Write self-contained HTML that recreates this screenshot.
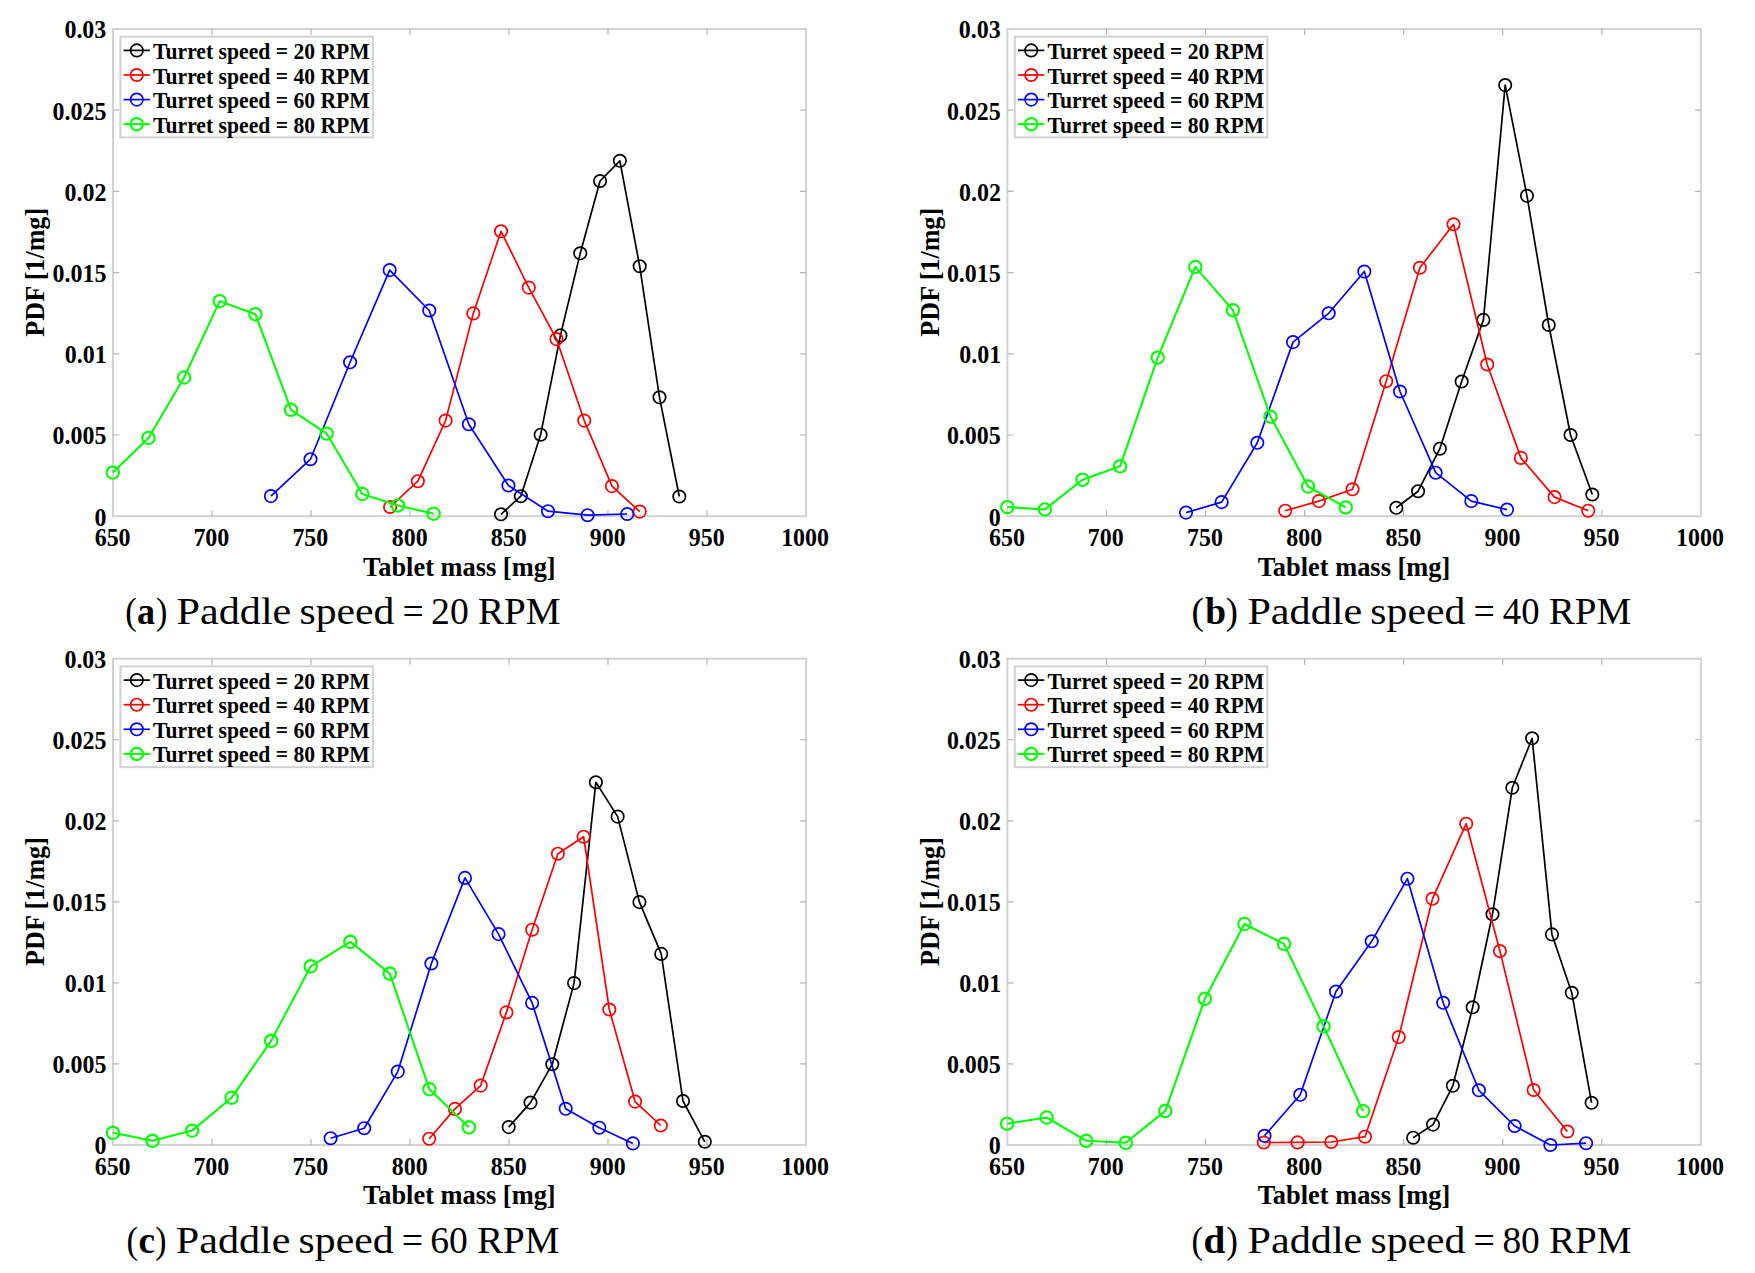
<!DOCTYPE html>
<html><head><meta charset="utf-8"><title>Tablet mass PDF</title>
<style>html,body{margin:0;padding:0;background:#fff;}svg{display:block;}</style></head>
<body><svg width="1755" height="1273" viewBox="0 0 1755 1273">
<rect width="1755" height="1273" fill="#fff"/>
<g font-family="'Liberation Serif', serif" fill="#000">
<rect x="113" y="29" width="693" height="487.2" fill="none" stroke="#d2d2d2" stroke-width="2"/>
<path d="M212 516.2v-6M212 29v6M311 516.2v-6M311 29v6M410 516.2v-6M410 29v6M509 516.2v-6M509 29v6M608 516.2v-6M608 29v6M707 516.2v-6M707 29v6M113 435h6M806 435h-6M113 353.8h6M806 353.8h-6M113 272.6h6M806 272.6h-6M113 191.4h6M806 191.4h-6M113 110.2h6M806 110.2h-6" stroke="#b4b4b4" stroke-width="1.2" fill="none"/>
<text x="94.66" y="545.7" font-size="25.9" font-weight="bold" textLength="35.94" lengthAdjust="spacingAndGlyphs">650</text>
<text x="193.39" y="545.7" font-size="25.9" font-weight="bold" textLength="35.94" lengthAdjust="spacingAndGlyphs">700</text>
<text x="292.39" y="545.7" font-size="25.9" font-weight="bold" textLength="35.94" lengthAdjust="spacingAndGlyphs">750</text>
<text x="391.69" y="545.7" font-size="25.9" font-weight="bold" textLength="35.94" lengthAdjust="spacingAndGlyphs">800</text>
<text x="490.69" y="545.7" font-size="25.9" font-weight="bold" textLength="35.94" lengthAdjust="spacingAndGlyphs">850</text>
<text x="589.75" y="545.7" font-size="25.9" font-weight="bold" textLength="35.94" lengthAdjust="spacingAndGlyphs">900</text>
<text x="688.75" y="545.7" font-size="25.9" font-weight="bold" textLength="35.94" lengthAdjust="spacingAndGlyphs">950</text>
<text x="781.13" y="545.7" font-size="25.9" font-weight="bold" textLength="47.91" lengthAdjust="spacingAndGlyphs">1000</text>
<text x="94.42" y="525.6" font-size="25.9" font-weight="bold" textLength="11.98" lengthAdjust="spacingAndGlyphs">0</text>
<text x="52.49" y="444.4" font-size="25.9" font-weight="bold" textLength="53.9" lengthAdjust="spacingAndGlyphs">0.005</text>
<text x="64.83" y="363.2" font-size="25.9" font-weight="bold" textLength="41.93" lengthAdjust="spacingAndGlyphs">0.01</text>
<text x="52.49" y="282" font-size="25.9" font-weight="bold" textLength="53.9" lengthAdjust="spacingAndGlyphs">0.015</text>
<text x="64.59" y="200.8" font-size="25.9" font-weight="bold" textLength="41.93" lengthAdjust="spacingAndGlyphs">0.02</text>
<text x="52.49" y="119.6" font-size="25.9" font-weight="bold" textLength="53.9" lengthAdjust="spacingAndGlyphs">0.025</text>
<text x="64.41" y="38.4" font-size="25.9" font-weight="bold" textLength="41.93" lengthAdjust="spacingAndGlyphs">0.03</text>
<text x="363" y="575.6" font-size="27.5" font-weight="bold" textLength="192.65" lengthAdjust="spacingAndGlyphs">Tablet mass [mg]</text>
<text transform="translate(44.4 336.66) rotate(-90)" font-size="26.9" font-weight="bold" textLength="128.78" lengthAdjust="spacingAndGlyphs">PDF [1/mg]</text>
<path d="M501 514.3L520.81 496.2L540.62 434.7L560.43 335.4L580.24 253.3L600.06 181L619.87 160.8L639.68 266.2L659.49 397.3L679.3 496.5" fill="none" stroke="#000000" stroke-width="1.7" stroke-linejoin="round"/>
<g fill="none" stroke="#000000" stroke-width="1.7"><circle cx="501" cy="514.3" r="6.2"/><circle cx="520.81" cy="496.2" r="6.2"/><circle cx="540.62" cy="434.7" r="6.2"/><circle cx="560.43" cy="335.4" r="6.2"/><circle cx="580.24" cy="253.3" r="6.2"/><circle cx="600.06" cy="181" r="6.2"/><circle cx="619.87" cy="160.8" r="6.2"/><circle cx="639.68" cy="266.2" r="6.2"/><circle cx="659.49" cy="397.3" r="6.2"/><circle cx="679.3" cy="496.5" r="6.2"/></g>
<path d="M390.1 507L417.83 481.2L445.57 420.6L473.3 313.4L501.03 231.3L528.77 287.6L556.5 339.1L584.23 420.6L611.97 486.1L639.7 511.6" fill="none" stroke="#ff0000" stroke-width="1.7" stroke-linejoin="round"/>
<g fill="none" stroke="#ff0000" stroke-width="1.7"><circle cx="390.1" cy="507" r="6.2"/><circle cx="417.83" cy="481.2" r="6.2"/><circle cx="445.57" cy="420.6" r="6.2"/><circle cx="473.3" cy="313.4" r="6.2"/><circle cx="501.03" cy="231.3" r="6.2"/><circle cx="528.77" cy="287.6" r="6.2"/><circle cx="556.5" cy="339.1" r="6.2"/><circle cx="584.23" cy="420.6" r="6.2"/><circle cx="611.97" cy="486.1" r="6.2"/><circle cx="639.7" cy="511.6" r="6.2"/></g>
<path d="M270.9 496.1L310.49 459.2L350.08 362.3L389.67 270.1L429.26 310.5L468.84 424.3L508.43 485.5L548.02 511.2L587.61 515.2L627.2 514" fill="none" stroke="#0000ff" stroke-width="1.7" stroke-linejoin="round"/>
<g fill="none" stroke="#0000ff" stroke-width="1.7"><circle cx="270.9" cy="496.1" r="6.2"/><circle cx="310.49" cy="459.2" r="6.2"/><circle cx="350.08" cy="362.3" r="6.2"/><circle cx="389.67" cy="270.1" r="6.2"/><circle cx="429.26" cy="310.5" r="6.2"/><circle cx="468.84" cy="424.3" r="6.2"/><circle cx="508.43" cy="485.5" r="6.2"/><circle cx="548.02" cy="511.2" r="6.2"/><circle cx="587.61" cy="515.2" r="6.2"/><circle cx="627.2" cy="514" r="6.2"/></g>
<path d="M112.8 472.6L148.44 437.9L184.09 377.5L219.73 301.1L255.38 314.2L291.02 409.8L326.67 433.6L362.31 494L397.96 505.4L433.6 513.7" fill="none" stroke="#00ff00" stroke-width="2.05" stroke-linejoin="round"/>
<g fill="none" stroke="#00ff00" stroke-width="2.05"><circle cx="112.8" cy="472.6" r="6.2"/><circle cx="148.44" cy="437.9" r="6.2"/><circle cx="184.09" cy="377.5" r="6.2"/><circle cx="219.73" cy="301.1" r="6.2"/><circle cx="255.38" cy="314.2" r="6.2"/><circle cx="291.02" cy="409.8" r="6.2"/><circle cx="326.67" cy="433.6" r="6.2"/><circle cx="362.31" cy="494" r="6.2"/><circle cx="397.96" cy="505.4" r="6.2"/><circle cx="433.6" cy="513.7" r="6.2"/></g>
<rect x="120.4" y="36.7" width="252.5" height="100.7" fill="#fff" stroke="#d2d2d2" stroke-width="2"/>
<path d="M123.6 50.4H149.9" stroke="#000000" stroke-width="1.7"/>
<circle cx="136.8" cy="50.4" r="6.2" fill="none" stroke="#000000" stroke-width="1.7"/>
<text x="153.08" y="58.9" font-size="22.2" font-weight="bold" textLength="216.65" lengthAdjust="spacingAndGlyphs">Turret speed = 20 RPM</text>
<path d="M123.6 75H149.9" stroke="#ff0000" stroke-width="1.7"/>
<circle cx="136.8" cy="75" r="6.2" fill="none" stroke="#ff0000" stroke-width="1.7"/>
<text x="153.08" y="83.5" font-size="22.2" font-weight="bold" textLength="216.65" lengthAdjust="spacingAndGlyphs">Turret speed = 40 RPM</text>
<path d="M123.6 99.6H149.9" stroke="#0000ff" stroke-width="1.7"/>
<circle cx="136.8" cy="99.6" r="6.2" fill="none" stroke="#0000ff" stroke-width="1.7"/>
<text x="153.08" y="108.1" font-size="22.2" font-weight="bold" textLength="216.65" lengthAdjust="spacingAndGlyphs">Turret speed = 60 RPM</text>
<path d="M123.6 124.2H149.9" stroke="#00ff00" stroke-width="2.05"/>
<circle cx="136.8" cy="124.2" r="6.2" fill="none" stroke="#00ff00" stroke-width="2.05"/>
<text x="153.08" y="132.7" font-size="22.2" font-weight="bold" textLength="216.65" lengthAdjust="spacingAndGlyphs">Turret speed = 80 RPM</text>
<text x="125.35" y="623.8" font-size="38.5" textLength="11.49" lengthAdjust="spacingAndGlyphs">(</text>
<text x="137.03" y="623.8" font-size="38.5" font-weight="bold" textLength="18.01" lengthAdjust="spacingAndGlyphs">a</text>
<text x="155.89" y="623.8" font-size="38.5" textLength="11.38" lengthAdjust="spacingAndGlyphs">)</text>
<text x="176.64" y="623.8" font-size="38.5" textLength="114.71" lengthAdjust="spacingAndGlyphs">Paddle</text>
<text x="299.53" y="623.8" font-size="38.5" textLength="94.97" lengthAdjust="spacingAndGlyphs">speed</text>
<text x="402.61" y="623.8" font-size="38.5" textLength="21.35" lengthAdjust="spacingAndGlyphs">=</text>
<text x="431.1" y="623.8" font-size="38.5" textLength="37.71" lengthAdjust="spacingAndGlyphs">20</text>
<text x="477.93" y="623.8" font-size="38.5" textLength="82.54" lengthAdjust="spacingAndGlyphs">RPM</text>
<rect x="1007.4" y="29" width="693.5" height="487.2" fill="none" stroke="#d2d2d2" stroke-width="2"/>
<path d="M1106.47 516.2v-6M1106.47 29v6M1205.54 516.2v-6M1205.54 29v6M1304.61 516.2v-6M1304.61 29v6M1403.69 516.2v-6M1403.69 29v6M1502.76 516.2v-6M1502.76 29v6M1601.83 516.2v-6M1601.83 29v6M1007.4 435h6M1700.9 435h-6M1007.4 353.8h6M1700.9 353.8h-6M1007.4 272.6h6M1700.9 272.6h-6M1007.4 191.4h6M1700.9 191.4h-6M1007.4 110.2h6M1700.9 110.2h-6" stroke="#b4b4b4" stroke-width="1.2" fill="none"/>
<text x="989.06" y="545.7" font-size="25.9" font-weight="bold" textLength="35.94" lengthAdjust="spacingAndGlyphs">650</text>
<text x="1087.86" y="545.7" font-size="25.9" font-weight="bold" textLength="35.94" lengthAdjust="spacingAndGlyphs">700</text>
<text x="1186.94" y="545.7" font-size="25.9" font-weight="bold" textLength="35.94" lengthAdjust="spacingAndGlyphs">750</text>
<text x="1286.31" y="545.7" font-size="25.9" font-weight="bold" textLength="35.94" lengthAdjust="spacingAndGlyphs">800</text>
<text x="1385.38" y="545.7" font-size="25.9" font-weight="bold" textLength="35.94" lengthAdjust="spacingAndGlyphs">850</text>
<text x="1484.51" y="545.7" font-size="25.9" font-weight="bold" textLength="35.94" lengthAdjust="spacingAndGlyphs">900</text>
<text x="1583.58" y="545.7" font-size="25.9" font-weight="bold" textLength="35.94" lengthAdjust="spacingAndGlyphs">950</text>
<text x="1676.03" y="545.7" font-size="25.9" font-weight="bold" textLength="47.92" lengthAdjust="spacingAndGlyphs">1000</text>
<text x="988.82" y="525.6" font-size="25.9" font-weight="bold" textLength="11.98" lengthAdjust="spacingAndGlyphs">0</text>
<text x="946.89" y="444.4" font-size="25.9" font-weight="bold" textLength="53.9" lengthAdjust="spacingAndGlyphs">0.005</text>
<text x="959.23" y="363.2" font-size="25.9" font-weight="bold" textLength="41.93" lengthAdjust="spacingAndGlyphs">0.01</text>
<text x="946.89" y="282" font-size="25.9" font-weight="bold" textLength="53.9" lengthAdjust="spacingAndGlyphs">0.015</text>
<text x="958.99" y="200.8" font-size="25.9" font-weight="bold" textLength="41.93" lengthAdjust="spacingAndGlyphs">0.02</text>
<text x="946.89" y="119.6" font-size="25.9" font-weight="bold" textLength="53.9" lengthAdjust="spacingAndGlyphs">0.025</text>
<text x="958.81" y="38.4" font-size="25.9" font-weight="bold" textLength="41.93" lengthAdjust="spacingAndGlyphs">0.03</text>
<text x="1257.65" y="575.6" font-size="27.5" font-weight="bold" textLength="192.65" lengthAdjust="spacingAndGlyphs">Tablet mass [mg]</text>
<text transform="translate(938.8 336.66) rotate(-90)" font-size="26.9" font-weight="bold" textLength="128.78" lengthAdjust="spacingAndGlyphs">PDF [1/mg]</text>
<path d="M1396.3 507.8L1418.08 491.2L1439.86 448.7L1461.63 381.5L1483.41 319.9L1505.19 85.1L1526.97 195.8L1548.74 325L1570.52 435L1592.3 494.5" fill="none" stroke="#000000" stroke-width="1.7" stroke-linejoin="round"/>
<g fill="none" stroke="#000000" stroke-width="1.7"><circle cx="1396.3" cy="507.8" r="6.2"/><circle cx="1418.08" cy="491.2" r="6.2"/><circle cx="1439.86" cy="448.7" r="6.2"/><circle cx="1461.63" cy="381.5" r="6.2"/><circle cx="1483.41" cy="319.9" r="6.2"/><circle cx="1505.19" cy="85.1" r="6.2"/><circle cx="1526.97" cy="195.8" r="6.2"/><circle cx="1548.74" cy="325" r="6.2"/><circle cx="1570.52" cy="435" r="6.2"/><circle cx="1592.3" cy="494.5" r="6.2"/></g>
<path d="M1285.2 510.7L1318.87 501.1L1352.53 489.3L1386.2 381.2L1419.87 267.8L1453.53 224.3L1487.2 364.5L1520.87 457.9L1554.53 497.1L1588.2 510.7" fill="none" stroke="#ff0000" stroke-width="1.7" stroke-linejoin="round"/>
<g fill="none" stroke="#ff0000" stroke-width="1.7"><circle cx="1285.2" cy="510.7" r="6.2"/><circle cx="1318.87" cy="501.1" r="6.2"/><circle cx="1352.53" cy="489.3" r="6.2"/><circle cx="1386.2" cy="381.2" r="6.2"/><circle cx="1419.87" cy="267.8" r="6.2"/><circle cx="1453.53" cy="224.3" r="6.2"/><circle cx="1487.2" cy="364.5" r="6.2"/><circle cx="1520.87" cy="457.9" r="6.2"/><circle cx="1554.53" cy="497.1" r="6.2"/><circle cx="1588.2" cy="510.7" r="6.2"/></g>
<path d="M1186 512.6L1221.67 502.1L1257.33 442.8L1293 342.1L1328.67 313.3L1364.33 271.5L1400 391.5L1435.67 472.7L1471.33 501.1L1507 509.6" fill="none" stroke="#0000ff" stroke-width="1.7" stroke-linejoin="round"/>
<g fill="none" stroke="#0000ff" stroke-width="1.7"><circle cx="1186" cy="512.6" r="6.2"/><circle cx="1221.67" cy="502.1" r="6.2"/><circle cx="1257.33" cy="442.8" r="6.2"/><circle cx="1293" cy="342.1" r="6.2"/><circle cx="1328.67" cy="313.3" r="6.2"/><circle cx="1364.33" cy="271.5" r="6.2"/><circle cx="1400" cy="391.5" r="6.2"/><circle cx="1435.67" cy="472.7" r="6.2"/><circle cx="1471.33" cy="501.1" r="6.2"/><circle cx="1507" cy="509.6" r="6.2"/></g>
<path d="M1007.3 507.1L1044.9 509.4L1082.5 479.7L1120.1 466.3L1157.7 357.6L1195.3 266.9L1232.9 310.2L1270.5 416.6L1308.1 486.5L1345.7 507.4" fill="none" stroke="#00ff00" stroke-width="2.05" stroke-linejoin="round"/>
<g fill="none" stroke="#00ff00" stroke-width="2.05"><circle cx="1007.3" cy="507.1" r="6.2"/><circle cx="1044.9" cy="509.4" r="6.2"/><circle cx="1082.5" cy="479.7" r="6.2"/><circle cx="1120.1" cy="466.3" r="6.2"/><circle cx="1157.7" cy="357.6" r="6.2"/><circle cx="1195.3" cy="266.9" r="6.2"/><circle cx="1232.9" cy="310.2" r="6.2"/><circle cx="1270.5" cy="416.6" r="6.2"/><circle cx="1308.1" cy="486.5" r="6.2"/><circle cx="1345.7" cy="507.4" r="6.2"/></g>
<rect x="1014.8" y="36.7" width="252.5" height="100.7" fill="#fff" stroke="#d2d2d2" stroke-width="2"/>
<path d="M1018 50.4H1044.3" stroke="#000000" stroke-width="1.7"/>
<circle cx="1031.2" cy="50.4" r="6.2" fill="none" stroke="#000000" stroke-width="1.7"/>
<text x="1047.48" y="58.9" font-size="22.2" font-weight="bold" textLength="216.65" lengthAdjust="spacingAndGlyphs">Turret speed = 20 RPM</text>
<path d="M1018 75H1044.3" stroke="#ff0000" stroke-width="1.7"/>
<circle cx="1031.2" cy="75" r="6.2" fill="none" stroke="#ff0000" stroke-width="1.7"/>
<text x="1047.48" y="83.5" font-size="22.2" font-weight="bold" textLength="216.65" lengthAdjust="spacingAndGlyphs">Turret speed = 40 RPM</text>
<path d="M1018 99.6H1044.3" stroke="#0000ff" stroke-width="1.7"/>
<circle cx="1031.2" cy="99.6" r="6.2" fill="none" stroke="#0000ff" stroke-width="1.7"/>
<text x="1047.48" y="108.1" font-size="22.2" font-weight="bold" textLength="216.65" lengthAdjust="spacingAndGlyphs">Turret speed = 60 RPM</text>
<path d="M1018 124.2H1044.3" stroke="#00ff00" stroke-width="2.05"/>
<circle cx="1031.2" cy="124.2" r="6.2" fill="none" stroke="#00ff00" stroke-width="2.05"/>
<text x="1047.48" y="132.7" font-size="22.2" font-weight="bold" textLength="216.65" lengthAdjust="spacingAndGlyphs">Turret speed = 80 RPM</text>
<text x="1191.42" y="623.8" font-size="38.5" textLength="12.41" lengthAdjust="spacingAndGlyphs">(</text>
<text x="1205.23" y="623.8" font-size="38.5" font-weight="bold" textLength="20.81" lengthAdjust="spacingAndGlyphs">b</text>
<text x="1225.81" y="623.8" font-size="38.5" textLength="12.16" lengthAdjust="spacingAndGlyphs">)</text>
<text x="1247.44" y="623.8" font-size="38.5" textLength="114.71" lengthAdjust="spacingAndGlyphs">Paddle</text>
<text x="1370.33" y="623.8" font-size="38.5" textLength="94.97" lengthAdjust="spacingAndGlyphs">speed</text>
<text x="1473.41" y="623.8" font-size="38.5" textLength="21.35" lengthAdjust="spacingAndGlyphs">=</text>
<text x="1502.87" y="623.8" font-size="38.5" textLength="36.71" lengthAdjust="spacingAndGlyphs">40</text>
<text x="1548.73" y="623.8" font-size="38.5" textLength="82.54" lengthAdjust="spacingAndGlyphs">RPM</text>
<rect x="113" y="658.7" width="693" height="486.3" fill="none" stroke="#d2d2d2" stroke-width="2"/>
<path d="M212 1145v-6M212 658.7v6M311 1145v-6M311 658.7v6M410 1145v-6M410 658.7v6M509 1145v-6M509 658.7v6M608 1145v-6M608 658.7v6M707 1145v-6M707 658.7v6M113 1063.95h6M806 1063.95h-6M113 982.9h6M806 982.9h-6M113 901.85h6M806 901.85h-6M113 820.8h6M806 820.8h-6M113 739.75h6M806 739.75h-6" stroke="#b4b4b4" stroke-width="1.2" fill="none"/>
<text x="94.66" y="1174.5" font-size="25.9" font-weight="bold" textLength="35.94" lengthAdjust="spacingAndGlyphs">650</text>
<text x="193.39" y="1174.5" font-size="25.9" font-weight="bold" textLength="35.94" lengthAdjust="spacingAndGlyphs">700</text>
<text x="292.39" y="1174.5" font-size="25.9" font-weight="bold" textLength="35.94" lengthAdjust="spacingAndGlyphs">750</text>
<text x="391.69" y="1174.5" font-size="25.9" font-weight="bold" textLength="35.94" lengthAdjust="spacingAndGlyphs">800</text>
<text x="490.69" y="1174.5" font-size="25.9" font-weight="bold" textLength="35.94" lengthAdjust="spacingAndGlyphs">850</text>
<text x="589.75" y="1174.5" font-size="25.9" font-weight="bold" textLength="35.94" lengthAdjust="spacingAndGlyphs">900</text>
<text x="688.75" y="1174.5" font-size="25.9" font-weight="bold" textLength="35.94" lengthAdjust="spacingAndGlyphs">950</text>
<text x="781.13" y="1174.5" font-size="25.9" font-weight="bold" textLength="47.91" lengthAdjust="spacingAndGlyphs">1000</text>
<text x="94.42" y="1154.4" font-size="25.9" font-weight="bold" textLength="11.98" lengthAdjust="spacingAndGlyphs">0</text>
<text x="52.49" y="1073.35" font-size="25.9" font-weight="bold" textLength="53.9" lengthAdjust="spacingAndGlyphs">0.005</text>
<text x="64.83" y="992.3" font-size="25.9" font-weight="bold" textLength="41.93" lengthAdjust="spacingAndGlyphs">0.01</text>
<text x="52.49" y="911.25" font-size="25.9" font-weight="bold" textLength="53.9" lengthAdjust="spacingAndGlyphs">0.015</text>
<text x="64.59" y="830.2" font-size="25.9" font-weight="bold" textLength="41.93" lengthAdjust="spacingAndGlyphs">0.02</text>
<text x="52.49" y="749.15" font-size="25.9" font-weight="bold" textLength="53.9" lengthAdjust="spacingAndGlyphs">0.025</text>
<text x="64.41" y="668.1" font-size="25.9" font-weight="bold" textLength="41.93" lengthAdjust="spacingAndGlyphs">0.03</text>
<text x="363" y="1204.4" font-size="27.5" font-weight="bold" textLength="192.65" lengthAdjust="spacingAndGlyphs">Tablet mass [mg]</text>
<text transform="translate(44.4 965.91) rotate(-90)" font-size="26.9" font-weight="bold" textLength="128.78" lengthAdjust="spacingAndGlyphs">PDF [1/mg]</text>
<path d="M508.7 1127.1L530.49 1102.6L552.28 1064.2L574.07 983.1L595.86 782.3L617.64 816.6L639.43 902.1L661.22 953.9L683.01 1101L704.8 1141.8" fill="none" stroke="#000000" stroke-width="1.7" stroke-linejoin="round"/>
<g fill="none" stroke="#000000" stroke-width="1.7"><circle cx="508.7" cy="1127.1" r="6.2"/><circle cx="530.49" cy="1102.6" r="6.2"/><circle cx="552.28" cy="1064.2" r="6.2"/><circle cx="574.07" cy="983.1" r="6.2"/><circle cx="595.86" cy="782.3" r="6.2"/><circle cx="617.64" cy="816.6" r="6.2"/><circle cx="639.43" cy="902.1" r="6.2"/><circle cx="661.22" cy="953.9" r="6.2"/><circle cx="683.01" cy="1101" r="6.2"/><circle cx="704.8" cy="1141.8" r="6.2"/></g>
<path d="M429.2 1138.7L454.93 1108.9L480.67 1085.6L506.4 1012.4L532.13 929.7L557.87 853.7L583.6 836.7L609.33 1009.5L635.07 1101.6L660.8 1125.5" fill="none" stroke="#ff0000" stroke-width="1.7" stroke-linejoin="round"/>
<g fill="none" stroke="#ff0000" stroke-width="1.7"><circle cx="429.2" cy="1138.7" r="6.2"/><circle cx="454.93" cy="1108.9" r="6.2"/><circle cx="480.67" cy="1085.6" r="6.2"/><circle cx="506.4" cy="1012.4" r="6.2"/><circle cx="532.13" cy="929.7" r="6.2"/><circle cx="557.87" cy="853.7" r="6.2"/><circle cx="583.6" cy="836.7" r="6.2"/><circle cx="609.33" cy="1009.5" r="6.2"/><circle cx="635.07" cy="1101.6" r="6.2"/><circle cx="660.8" cy="1125.5" r="6.2"/></g>
<path d="M330.6 1138.2L364.19 1128.2L397.78 1071.6L431.37 963.5L464.96 877.9L498.54 934.1L532.13 1002.9L565.72 1108.8L599.31 1127.7L632.9 1143.4" fill="none" stroke="#0000ff" stroke-width="1.7" stroke-linejoin="round"/>
<g fill="none" stroke="#0000ff" stroke-width="1.7"><circle cx="330.6" cy="1138.2" r="6.2"/><circle cx="364.19" cy="1128.2" r="6.2"/><circle cx="397.78" cy="1071.6" r="6.2"/><circle cx="431.37" cy="963.5" r="6.2"/><circle cx="464.96" cy="877.9" r="6.2"/><circle cx="498.54" cy="934.1" r="6.2"/><circle cx="532.13" cy="1002.9" r="6.2"/><circle cx="565.72" cy="1108.8" r="6.2"/><circle cx="599.31" cy="1127.7" r="6.2"/><circle cx="632.9" cy="1143.4" r="6.2"/></g>
<path d="M113 1132.8L152.54 1140.8L192.09 1130.6L231.63 1097.7L271.18 1040.8L310.72 966.3L350.27 941.8L389.81 973.6L429.36 1089.2L468.9 1127.3" fill="none" stroke="#00ff00" stroke-width="2.05" stroke-linejoin="round"/>
<g fill="none" stroke="#00ff00" stroke-width="2.05"><circle cx="113" cy="1132.8" r="6.2"/><circle cx="152.54" cy="1140.8" r="6.2"/><circle cx="192.09" cy="1130.6" r="6.2"/><circle cx="231.63" cy="1097.7" r="6.2"/><circle cx="271.18" cy="1040.8" r="6.2"/><circle cx="310.72" cy="966.3" r="6.2"/><circle cx="350.27" cy="941.8" r="6.2"/><circle cx="389.81" cy="973.6" r="6.2"/><circle cx="429.36" cy="1089.2" r="6.2"/><circle cx="468.9" cy="1127.3" r="6.2"/></g>
<rect x="120.4" y="666.4" width="252.5" height="100.7" fill="#fff" stroke="#d2d2d2" stroke-width="2"/>
<path d="M123.6 680.1H149.9" stroke="#000000" stroke-width="1.7"/>
<circle cx="136.8" cy="680.1" r="6.2" fill="none" stroke="#000000" stroke-width="1.7"/>
<text x="153.08" y="688.6" font-size="22.2" font-weight="bold" textLength="216.65" lengthAdjust="spacingAndGlyphs">Turret speed = 20 RPM</text>
<path d="M123.6 704.7H149.9" stroke="#ff0000" stroke-width="1.7"/>
<circle cx="136.8" cy="704.7" r="6.2" fill="none" stroke="#ff0000" stroke-width="1.7"/>
<text x="153.08" y="713.2" font-size="22.2" font-weight="bold" textLength="216.65" lengthAdjust="spacingAndGlyphs">Turret speed = 40 RPM</text>
<path d="M123.6 729.3H149.9" stroke="#0000ff" stroke-width="1.7"/>
<circle cx="136.8" cy="729.3" r="6.2" fill="none" stroke="#0000ff" stroke-width="1.7"/>
<text x="153.08" y="737.8" font-size="22.2" font-weight="bold" textLength="216.65" lengthAdjust="spacingAndGlyphs">Turret speed = 60 RPM</text>
<path d="M123.6 753.9H149.9" stroke="#00ff00" stroke-width="2.05"/>
<circle cx="136.8" cy="753.9" r="6.2" fill="none" stroke="#00ff00" stroke-width="2.05"/>
<text x="153.08" y="762.4" font-size="22.2" font-weight="bold" textLength="216.65" lengthAdjust="spacingAndGlyphs">Turret speed = 80 RPM</text>
<text x="126.55" y="1252.8" font-size="38.5" textLength="11.49" lengthAdjust="spacingAndGlyphs">(</text>
<text x="138.5" y="1252.8" font-size="38.5" font-weight="bold" textLength="16.49" lengthAdjust="spacingAndGlyphs">c</text>
<text x="155.3" y="1252.8" font-size="38.5" textLength="11.25" lengthAdjust="spacingAndGlyphs">)</text>
<text x="175.74" y="1252.8" font-size="38.5" textLength="114.71" lengthAdjust="spacingAndGlyphs">Paddle</text>
<text x="298.63" y="1252.8" font-size="38.5" textLength="94.97" lengthAdjust="spacingAndGlyphs">speed</text>
<text x="401.71" y="1252.8" font-size="38.5" textLength="21.35" lengthAdjust="spacingAndGlyphs">=</text>
<text x="430.3" y="1252.8" font-size="38.5" textLength="37.61" lengthAdjust="spacingAndGlyphs">60</text>
<text x="477.03" y="1252.8" font-size="38.5" textLength="82.54" lengthAdjust="spacingAndGlyphs">RPM</text>
<rect x="1007.4" y="658.7" width="693.5" height="486.3" fill="none" stroke="#d2d2d2" stroke-width="2"/>
<path d="M1106.47 1145v-6M1106.47 658.7v6M1205.54 1145v-6M1205.54 658.7v6M1304.61 1145v-6M1304.61 658.7v6M1403.69 1145v-6M1403.69 658.7v6M1502.76 1145v-6M1502.76 658.7v6M1601.83 1145v-6M1601.83 658.7v6M1007.4 1063.95h6M1700.9 1063.95h-6M1007.4 982.9h6M1700.9 982.9h-6M1007.4 901.85h6M1700.9 901.85h-6M1007.4 820.8h6M1700.9 820.8h-6M1007.4 739.75h6M1700.9 739.75h-6" stroke="#b4b4b4" stroke-width="1.2" fill="none"/>
<text x="989.06" y="1174.5" font-size="25.9" font-weight="bold" textLength="35.94" lengthAdjust="spacingAndGlyphs">650</text>
<text x="1087.86" y="1174.5" font-size="25.9" font-weight="bold" textLength="35.94" lengthAdjust="spacingAndGlyphs">700</text>
<text x="1186.94" y="1174.5" font-size="25.9" font-weight="bold" textLength="35.94" lengthAdjust="spacingAndGlyphs">750</text>
<text x="1286.31" y="1174.5" font-size="25.9" font-weight="bold" textLength="35.94" lengthAdjust="spacingAndGlyphs">800</text>
<text x="1385.38" y="1174.5" font-size="25.9" font-weight="bold" textLength="35.94" lengthAdjust="spacingAndGlyphs">850</text>
<text x="1484.51" y="1174.5" font-size="25.9" font-weight="bold" textLength="35.94" lengthAdjust="spacingAndGlyphs">900</text>
<text x="1583.58" y="1174.5" font-size="25.9" font-weight="bold" textLength="35.94" lengthAdjust="spacingAndGlyphs">950</text>
<text x="1676.03" y="1174.5" font-size="25.9" font-weight="bold" textLength="47.92" lengthAdjust="spacingAndGlyphs">1000</text>
<text x="988.82" y="1154.4" font-size="25.9" font-weight="bold" textLength="11.98" lengthAdjust="spacingAndGlyphs">0</text>
<text x="946.89" y="1073.35" font-size="25.9" font-weight="bold" textLength="53.9" lengthAdjust="spacingAndGlyphs">0.005</text>
<text x="959.23" y="992.3" font-size="25.9" font-weight="bold" textLength="41.93" lengthAdjust="spacingAndGlyphs">0.01</text>
<text x="946.89" y="911.25" font-size="25.9" font-weight="bold" textLength="53.9" lengthAdjust="spacingAndGlyphs">0.015</text>
<text x="958.99" y="830.2" font-size="25.9" font-weight="bold" textLength="41.93" lengthAdjust="spacingAndGlyphs">0.02</text>
<text x="946.89" y="749.15" font-size="25.9" font-weight="bold" textLength="53.9" lengthAdjust="spacingAndGlyphs">0.025</text>
<text x="958.81" y="668.1" font-size="25.9" font-weight="bold" textLength="41.93" lengthAdjust="spacingAndGlyphs">0.03</text>
<text x="1257.65" y="1204.4" font-size="27.5" font-weight="bold" textLength="192.65" lengthAdjust="spacingAndGlyphs">Tablet mass [mg]</text>
<text transform="translate(938.8 965.91) rotate(-90)" font-size="26.9" font-weight="bold" textLength="128.78" lengthAdjust="spacingAndGlyphs">PDF [1/mg]</text>
<path d="M1413.2 1137.7L1433.02 1124.6L1452.84 1085.8L1472.67 1007.3L1492.49 914.3L1512.31 787.8L1532.13 738.3L1551.96 934.4L1571.78 992.8L1591.6 1102.8" fill="none" stroke="#000000" stroke-width="1.7" stroke-linejoin="round"/>
<g fill="none" stroke="#000000" stroke-width="1.7"><circle cx="1413.2" cy="1137.7" r="6.2"/><circle cx="1433.02" cy="1124.6" r="6.2"/><circle cx="1452.84" cy="1085.8" r="6.2"/><circle cx="1472.67" cy="1007.3" r="6.2"/><circle cx="1492.49" cy="914.3" r="6.2"/><circle cx="1512.31" cy="787.8" r="6.2"/><circle cx="1532.13" cy="738.3" r="6.2"/><circle cx="1551.96" cy="934.4" r="6.2"/><circle cx="1571.78" cy="992.8" r="6.2"/><circle cx="1591.6" cy="1102.8" r="6.2"/></g>
<path d="M1263.8 1142.5L1297.53 1142.4L1331.27 1142L1365 1136.7L1398.73 1037.1L1432.47 898.8L1466.2 823.7L1499.93 951L1533.67 1090L1567.4 1131.5" fill="none" stroke="#ff0000" stroke-width="1.7" stroke-linejoin="round"/>
<g fill="none" stroke="#ff0000" stroke-width="1.7"><circle cx="1263.8" cy="1142.5" r="6.2"/><circle cx="1297.53" cy="1142.4" r="6.2"/><circle cx="1331.27" cy="1142" r="6.2"/><circle cx="1365" cy="1136.7" r="6.2"/><circle cx="1398.73" cy="1037.1" r="6.2"/><circle cx="1432.47" cy="898.8" r="6.2"/><circle cx="1466.2" cy="823.7" r="6.2"/><circle cx="1499.93" cy="951" r="6.2"/><circle cx="1533.67" cy="1090" r="6.2"/><circle cx="1567.4" cy="1131.5" r="6.2"/></g>
<path d="M1264.5 1135.8L1300.23 1094.8L1335.97 991.5L1371.7 941.3L1407.43 878.7L1443.17 1002.8L1478.9 1090.3L1514.63 1126L1550.37 1145L1586.1 1143.2" fill="none" stroke="#0000ff" stroke-width="1.7" stroke-linejoin="round"/>
<g fill="none" stroke="#0000ff" stroke-width="1.7"><circle cx="1264.5" cy="1135.8" r="6.2"/><circle cx="1300.23" cy="1094.8" r="6.2"/><circle cx="1335.97" cy="991.5" r="6.2"/><circle cx="1371.7" cy="941.3" r="6.2"/><circle cx="1407.43" cy="878.7" r="6.2"/><circle cx="1443.17" cy="1002.8" r="6.2"/><circle cx="1478.9" cy="1090.3" r="6.2"/><circle cx="1514.63" cy="1126" r="6.2"/><circle cx="1550.37" cy="1145" r="6.2"/><circle cx="1586.1" cy="1143.2" r="6.2"/></g>
<path d="M1007.1 1123.7L1046.66 1117.5L1086.21 1140.8L1125.77 1142.8L1165.32 1110.9L1204.88 998.8L1244.43 924L1283.99 943.8L1323.54 1026.3L1363.1 1111.1" fill="none" stroke="#00ff00" stroke-width="2.05" stroke-linejoin="round"/>
<g fill="none" stroke="#00ff00" stroke-width="2.05"><circle cx="1007.1" cy="1123.7" r="6.2"/><circle cx="1046.66" cy="1117.5" r="6.2"/><circle cx="1086.21" cy="1140.8" r="6.2"/><circle cx="1125.77" cy="1142.8" r="6.2"/><circle cx="1165.32" cy="1110.9" r="6.2"/><circle cx="1204.88" cy="998.8" r="6.2"/><circle cx="1244.43" cy="924" r="6.2"/><circle cx="1283.99" cy="943.8" r="6.2"/><circle cx="1323.54" cy="1026.3" r="6.2"/><circle cx="1363.1" cy="1111.1" r="6.2"/></g>
<rect x="1014.8" y="666.4" width="252.5" height="100.7" fill="#fff" stroke="#d2d2d2" stroke-width="2"/>
<path d="M1018 680.1H1044.3" stroke="#000000" stroke-width="1.7"/>
<circle cx="1031.2" cy="680.1" r="6.2" fill="none" stroke="#000000" stroke-width="1.7"/>
<text x="1047.48" y="688.6" font-size="22.2" font-weight="bold" textLength="216.65" lengthAdjust="spacingAndGlyphs">Turret speed = 20 RPM</text>
<path d="M1018 704.7H1044.3" stroke="#ff0000" stroke-width="1.7"/>
<circle cx="1031.2" cy="704.7" r="6.2" fill="none" stroke="#ff0000" stroke-width="1.7"/>
<text x="1047.48" y="713.2" font-size="22.2" font-weight="bold" textLength="216.65" lengthAdjust="spacingAndGlyphs">Turret speed = 40 RPM</text>
<path d="M1018 729.3H1044.3" stroke="#0000ff" stroke-width="1.7"/>
<circle cx="1031.2" cy="729.3" r="6.2" fill="none" stroke="#0000ff" stroke-width="1.7"/>
<text x="1047.48" y="737.8" font-size="22.2" font-weight="bold" textLength="216.65" lengthAdjust="spacingAndGlyphs">Turret speed = 60 RPM</text>
<path d="M1018 753.9H1044.3" stroke="#00ff00" stroke-width="2.05"/>
<circle cx="1031.2" cy="753.9" r="6.2" fill="none" stroke="#00ff00" stroke-width="2.05"/>
<text x="1047.48" y="762.4" font-size="22.2" font-weight="bold" textLength="216.65" lengthAdjust="spacingAndGlyphs">Turret speed = 80 RPM</text>
<text x="1191.55" y="1252.8" font-size="38.5" textLength="11.49" lengthAdjust="spacingAndGlyphs">(</text>
<text x="1203.53" y="1252.8" font-size="38.5" font-weight="bold" textLength="21.81" lengthAdjust="spacingAndGlyphs">d</text>
<text x="1226.26" y="1252.8" font-size="38.5" textLength="11.64" lengthAdjust="spacingAndGlyphs">)</text>
<text x="1247.64" y="1252.8" font-size="38.5" textLength="114.71" lengthAdjust="spacingAndGlyphs">Paddle</text>
<text x="1370.53" y="1252.8" font-size="38.5" textLength="94.97" lengthAdjust="spacingAndGlyphs">speed</text>
<text x="1473.61" y="1252.8" font-size="38.5" textLength="21.35" lengthAdjust="spacingAndGlyphs">=</text>
<text x="1502.4" y="1252.8" font-size="38.5" textLength="37.41" lengthAdjust="spacingAndGlyphs">80</text>
<text x="1548.93" y="1252.8" font-size="38.5" textLength="82.54" lengthAdjust="spacingAndGlyphs">RPM</text>
</g>
</svg></body></html>
